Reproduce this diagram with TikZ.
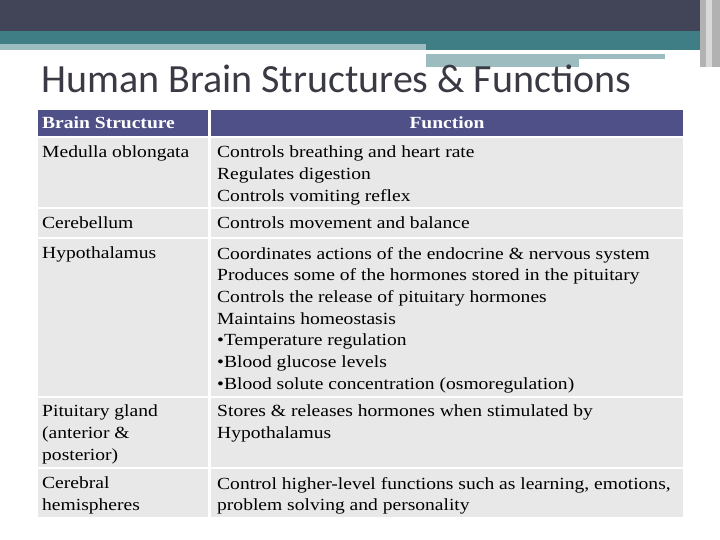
\documentclass[tikz,border=0pt]{standalone}
\usepackage{fontspec}
\setmainfont{Liberation Serif}[FakeStretch=1.15]
\newfontfamily\titlefont{Carlito}
\definecolor{dark}{HTML}{424457}
\definecolor{teal}{HTML}{3F7E85}
\definecolor{lteal}{HTML}{9DBCBF}
\definecolor{hdr}{HTML}{4F5088}
\definecolor{rowc}{HTML}{E8E8E8}
\definecolor{ttl}{HTML}{3A3A44}
\begin{document}
\begin{tikzpicture}[x=1pt,y=-1pt,
  cell/.style={anchor=north west,align=left,inner sep=0pt,font=\fontsize{17}{21.7}\selectfont},
  hcell/.style={anchor=center,inner sep=0pt,text=white,font=\fontsize{17}{20}\selectfont\bfseries}]
\useasboundingbox (0,0) rectangle (720,540);
\fill[white] (0,0) rectangle (720,540);
% top decoration
\fill[dark] (0,0) rectangle (720,31);
\fill[teal] (0,31) rectangle (700,44);
\fill[lteal] (0,44) rectangle (426,50);
\fill[teal] (426,44) rectangle (700,50);
\fill[lteal] (426,54) rectangle (665,59);
\fill[lteal] (426,59) rectangle (579,67);
\fill[gray!60] (700,0) rectangle (720,67);
\fill[gray!30] (706,0) rectangle (712,67);
\node[anchor=base west,inner sep=0pt,font=\titlefont\fontsize{40}{42}\selectfont,text=ttl] (title) at (41,93) {Human Brain Structures \& Functions};
% table
\fill[hdr] (38,110) rectangle (208,136);
\fill[hdr] (211,110) rectangle (683,136);
\foreach \a/\b in {138/207,209/237,239/396,398/467,469/517}{
  \fill[rowc] (38,\a) rectangle (208,\b);
  \fill[rowc] (211,\a) rectangle (683,\b);}
\node[hcell,anchor=west] (h1) at (42,123) {Brain Structure};
\node[hcell] (h2) at (447,123) {Function};
\node[cell] (s1) at (42,146) {Medulla oblongata};
\node[cell] (f1) at (217,146) {Controls breathing and heart rate\\Regulates digestion\\Controls vomiting reflex};
\node[cell] (s2) at (42,217) {Cerebellum};
\node[cell] (f2) at (217,217) {Controls movement and balance};
\node[cell] (s3) at (42,247) {Hypothalamus};
\node[cell] (f3) at (217,247) {Coordinates actions of the endocrine \& nervous system\\Produces some of the hormones stored in the pituitary\\Controls the release of pituitary hormones\\Maintains homeostasis\\•Temperature regulation\\•Blood glucose levels\\•Blood solute concentration (osmoregulation)};
\node[cell] (s4) at (42,405) {Pituitary gland\\(anterior \&\\posterior)};
\node[cell] (f4) at (217,405) {Stores \& releases hormones when stimulated by\\Hypothalamus};
\node[cell] (s5) at (42,477) {Cerebral\\hemispheres};
\node[cell] (f5) at (217,477) {Control higher-level functions such as learning, emotions,\\problem solving and personality};
\end{tikzpicture}
\end{document}
